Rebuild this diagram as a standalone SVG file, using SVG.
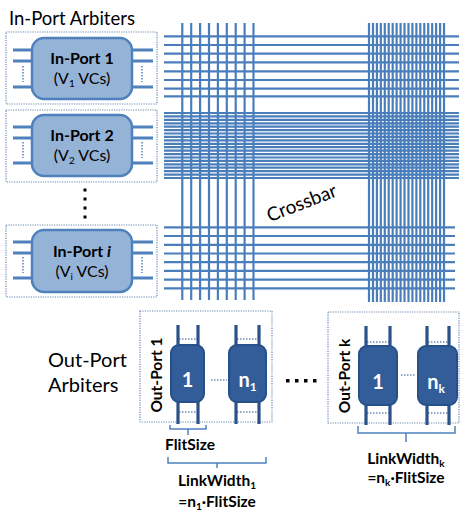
<svg xmlns="http://www.w3.org/2000/svg" width="463" height="516" viewBox="0 0 463 516">
<defs>
<style>
.t{font-family:Lato,"Liberation Sans",sans-serif;fill:#000}
.b{font-weight:bold}
.dot{fill:none;stroke:#6a89ad;stroke-width:1.2;stroke-dasharray:1.2 1.2}
.inb{fill:#95b3d7;stroke:#4f81bd;stroke-width:2.5}
.wire{stroke:#4f81bd;stroke-width:3}
.vd{stroke:#4f81bd;stroke-width:1.5;stroke-dasharray:1.5 1.5}
.xb{stroke:#4a7ebb;stroke-width:2.2}
.ob{fill:#325d98;stroke:#27508a;stroke-width:2}
.leg{stroke:#2b5189;stroke-width:3.2}
.od{stroke:#2b5189;stroke-width:1;stroke-dasharray:1.5 1.5}
.br{fill:none;stroke:#4f81bd;stroke-width:1.5}
.wt{font-family:Lato,"Liberation Sans",sans-serif;fill:#fff;font-weight:bold}
</style>
</defs>
<text class="t" x="9" y="25" font-size="18.5">In-Port Arbiters</text>
<g id="crossbar">
<g class="xb">
<line x1="182.3" y1="23" x2="182.3" y2="300"/><line x1="191.2" y1="23" x2="191.2" y2="300"/><line x1="200.1" y1="23" x2="200.1" y2="300"/><line x1="209" y1="23" x2="209" y2="300"/><line x1="217.9" y1="23" x2="217.9" y2="300"/><line x1="226.8" y1="23" x2="226.8" y2="300"/><line x1="235.7" y1="23" x2="235.7" y2="300"/><line x1="244.6" y1="23" x2="244.6" y2="300"/><line x1="253.5" y1="23" x2="253.5" y2="300"/>
<line x1="369" y1="23" x2="369" y2="302"/><line x1="373" y1="23" x2="373" y2="302"/><line x1="376.9" y1="23" x2="376.9" y2="302"/><line x1="380.8" y1="23" x2="380.8" y2="302"/><line x1="384.8" y1="23" x2="384.8" y2="302"/><line x1="388.7" y1="23" x2="388.7" y2="302"/><line x1="392.7" y1="23" x2="392.7" y2="302"/><line x1="396.6" y1="23" x2="396.6" y2="302"/><line x1="400.6" y1="23" x2="400.6" y2="302"/><line x1="404.5" y1="23" x2="404.5" y2="302"/><line x1="408.5" y1="23" x2="408.5" y2="302"/><line x1="412.4" y1="23" x2="412.4" y2="302"/><line x1="416.4" y1="23" x2="416.4" y2="302"/><line x1="420.3" y1="23" x2="420.3" y2="302"/><line x1="424.3" y1="23" x2="424.3" y2="302"/><line x1="428.2" y1="23" x2="428.2" y2="302"/><line x1="432.2" y1="23" x2="432.2" y2="302"/><line x1="436.1" y1="23" x2="436.1" y2="302"/><line x1="440.1" y1="23" x2="440.1" y2="302"/><line x1="444" y1="23" x2="444" y2="302"/>
<line x1="164" y1="36.3" x2="459" y2="36.3"/><line x1="164" y1="45" x2="459" y2="45"/><line x1="164" y1="53.7" x2="459" y2="53.7"/><line x1="164" y1="62.3" x2="459" y2="62.3"/><line x1="164" y1="71.3" x2="459" y2="71.3"/><line x1="164" y1="80" x2="459" y2="80"/><line x1="164" y1="88.7" x2="459" y2="88.7"/><line x1="164" y1="96.3" x2="459" y2="96.3"/>
<line x1="164" y1="113" x2="459" y2="113"/><line x1="164" y1="116.4" x2="459" y2="116.4"/><line x1="164" y1="119.8" x2="459" y2="119.8"/><line x1="164" y1="123.3" x2="459" y2="123.3"/><line x1="164" y1="126.7" x2="459" y2="126.7"/><line x1="164" y1="130.1" x2="459" y2="130.1"/><line x1="164" y1="133.5" x2="459" y2="133.5"/><line x1="164" y1="136.9" x2="459" y2="136.9"/><line x1="164" y1="140.4" x2="459" y2="140.4"/><line x1="164" y1="143.8" x2="459" y2="143.8"/><line x1="164" y1="147.2" x2="459" y2="147.2"/><line x1="164" y1="150.6" x2="459" y2="150.6"/><line x1="164" y1="154.1" x2="459" y2="154.1"/><line x1="164" y1="157.5" x2="459" y2="157.5"/><line x1="164" y1="160.9" x2="459" y2="160.9"/><line x1="164" y1="164.3" x2="459" y2="164.3"/><line x1="164" y1="167.7" x2="459" y2="167.7"/><line x1="164" y1="171.2" x2="459" y2="171.2"/><line x1="164" y1="174.6" x2="459" y2="174.6"/><line x1="164" y1="178" x2="459" y2="178"/>
<line x1="164" y1="227.3" x2="455" y2="227.3"/><line x1="164" y1="236" x2="455" y2="236"/><line x1="164" y1="244.8" x2="455" y2="244.8"/><line x1="164" y1="253.5" x2="455" y2="253.5"/><line x1="164" y1="262.2" x2="455" y2="262.2"/><line x1="164" y1="270.9" x2="455" y2="270.9"/><line x1="164" y1="279.6" x2="455" y2="279.6"/><line x1="164" y1="288.3" x2="455" y2="288.3"/>
</g>
<text class="t" x="0" y="0" font-size="19" text-anchor="middle" transform="translate(304,209) rotate(-21)">Crossbar</text>
</g>
<g id="inport1">
<rect class="dot" x="6" y="32" width="151" height="72"/>
<line class="wire" x1="13" y1="50" x2="33" y2="50"/><line class="wire" x1="13" y1="61" x2="33" y2="61"/><line class="wire" x1="13" y1="87" x2="33" y2="87"/>
<line class="wire" x1="131" y1="50" x2="153" y2="50"/><line class="wire" x1="131" y1="61" x2="153" y2="61"/><line class="wire" x1="131" y1="87" x2="153" y2="87"/>
<line class="vd" x1="23" y1="66" x2="23" y2="82"/><line class="vd" x1="142" y1="66" x2="142" y2="82"/>
<rect class="inb" x="32" y="38" width="100" height="61" rx="12"/>
<text class="t b" x="82" y="64" font-size="16" text-anchor="middle">In-Port 1</text>
<text class="t" x="82" y="84" font-size="16" text-anchor="middle">(V<tspan font-size="10" dy="3">1</tspan><tspan dy="-3"> VCs)</tspan></text>
</g>
<g id="inport2">
<rect class="dot" x="6" y="110" width="151" height="72"/>
<line class="wire" x1="13" y1="127" x2="33" y2="127"/><line class="wire" x1="13" y1="138" x2="33" y2="138"/><line class="wire" x1="13" y1="163" x2="33" y2="163"/>
<line class="wire" x1="131" y1="127" x2="153" y2="127"/><line class="wire" x1="131" y1="138" x2="153" y2="138"/><line class="wire" x1="131" y1="163" x2="153" y2="163"/>
<line class="vd" x1="23" y1="142" x2="23" y2="158"/><line class="vd" x1="142" y1="142" x2="142" y2="158"/>
<rect class="inb" x="32" y="115" width="100" height="61" rx="12"/>
<text class="t b" x="82" y="141" font-size="16" text-anchor="middle">In-Port 2</text>
<text class="t" x="82" y="161" font-size="16" text-anchor="middle">(V<tspan font-size="10" dy="3">2</tspan><tspan dy="-3"> VCs)</tspan></text>
</g>
<g id="vdots" fill="#000">
<rect x="83.5" y="188.5" width="3" height="3"/><rect x="83.5" y="197.5" width="3" height="3"/><rect x="83.5" y="206.5" width="3" height="3"/><rect x="83.5" y="215.5" width="3" height="3"/>
</g>
<g id="inporti">
<rect class="dot" x="6" y="225" width="151" height="72"/>
<line class="wire" x1="13" y1="242" x2="33" y2="242"/><line class="wire" x1="13" y1="253" x2="33" y2="253"/><line class="wire" x1="13" y1="278" x2="33" y2="278"/>
<line class="wire" x1="131" y1="242" x2="153" y2="242"/><line class="wire" x1="131" y1="253" x2="153" y2="253"/><line class="wire" x1="131" y1="278" x2="153" y2="278"/>
<line class="vd" x1="23" y1="257" x2="23" y2="273"/><line class="vd" x1="142" y1="257" x2="142" y2="273"/>
<rect class="inb" x="32" y="230" width="100" height="62" rx="12"/>
<text class="t b" x="82" y="257" font-size="16" text-anchor="middle">In-Port <tspan font-style="italic">i</tspan></text>
<text class="t" x="82" y="277" font-size="16" text-anchor="middle">(V<tspan font-size="10" dy="3">i</tspan><tspan dy="-3"> VCs)</tspan></text>
</g>
<text class="t" x="48" y="367" font-size="20">Out-Port</text>
<text class="t" x="48" y="392" font-size="20">Arbiters</text>
<g id="outport1">
<rect class="dot" x="140" y="311" width="132" height="111"/>
<text class="t b" x="0" y="0" font-size="15.5" text-anchor="middle" transform="translate(162,375) rotate(-90)">Out-Port 1</text>
<line class="leg" x1="178" y1="325" x2="178" y2="346"/><line class="leg" x1="198" y1="325" x2="198" y2="346"/>
<line class="leg" x1="178" y1="401" x2="178" y2="424"/><line class="leg" x1="198" y1="401" x2="198" y2="424"/>
<line class="od" x1="179" y1="339" x2="197" y2="339"/><line class="od" x1="179" y1="412" x2="197" y2="412"/>
<rect class="ob" x="171" y="345" width="33" height="57" rx="8"/>
<text class="wt" x="187.5" y="387" font-size="20" text-anchor="middle">1</text>
<line class="od" x1="211" y1="380" x2="227" y2="380"/>
<line class="leg" x1="236" y1="325" x2="236" y2="346"/><line class="leg" x1="259" y1="325" x2="259" y2="346"/>
<line class="leg" x1="236" y1="401" x2="236" y2="424"/><line class="leg" x1="259" y1="401" x2="259" y2="424"/>
<line class="od" x1="237" y1="339" x2="258" y2="339"/><line class="od" x1="237" y1="412" x2="258" y2="412"/>
<rect class="ob" x="229" y="345" width="37" height="57" rx="8"/>
<text class="wt" x="247.5" y="387" font-size="20" text-anchor="middle">n<tspan font-size="12" dy="4">1</tspan></text>
</g>
<g id="hdots" fill="#000">
<rect x="286" y="379" width="3.5" height="3.5"/><rect x="295" y="379" width="3.5" height="3.5"/><rect x="304" y="379" width="3.5" height="3.5"/><rect x="313" y="379" width="3.5" height="3.5"/>
</g>
<g id="outportk">
<rect class="dot" x="328" y="312" width="131" height="111"/>
<text class="t b" x="0" y="0" font-size="15.5" text-anchor="middle" transform="translate(350,376) rotate(-90)">Out-Port k</text>
<line class="leg" x1="366" y1="326" x2="366" y2="348"/><line class="leg" x1="390" y1="326" x2="390" y2="348"/>
<line class="leg" x1="366" y1="403" x2="366" y2="425"/><line class="leg" x1="390" y1="403" x2="390" y2="425"/>
<line class="od" x1="367" y1="342" x2="389" y2="342"/><line class="od" x1="367" y1="413" x2="389" y2="413"/>
<rect class="ob" x="359" y="346" width="38" height="59" rx="8"/>
<text class="wt" x="378" y="389" font-size="20" text-anchor="middle">1</text>
<line class="od" x1="401" y1="375" x2="416" y2="375"/>
<line class="leg" x1="427" y1="326" x2="427" y2="348"/><line class="leg" x1="449" y1="326" x2="449" y2="348"/>
<line class="leg" x1="427" y1="403" x2="427" y2="425"/><line class="leg" x1="449" y1="403" x2="449" y2="425"/>
<line class="od" x1="428" y1="342" x2="448" y2="342"/><line class="od" x1="428" y1="413" x2="448" y2="413"/>
<rect class="ob" x="418" y="346" width="39" height="59" rx="8"/>
<text class="wt" x="436" y="389" font-size="20" text-anchor="middle">n<tspan font-size="12" dy="4">k</tspan></text>
</g>
<g id="connectors">
<path class="br" d="M170,425 L170,429 L206,429 L206,425 M188,429 L188,435"/>
<path class="br" d="M168,457 L168,463 L266,463 L266,457 M217,463 L217,468"/>
<path class="br" d="M358,426 L358,433 L455,433 L455,426 M406,433 L406,442"/>
</g>
<g id="labels">
<text class="t b" x="190" y="450" font-size="15.5" text-anchor="middle">FlitSize</text>
<text class="t b" x="217" y="486" font-size="15.5" text-anchor="middle">LinkWidth<tspan font-size="10" dy="3">1</tspan></text>
<text class="t b" x="217" y="507" font-size="15.5" text-anchor="middle">=n<tspan font-size="10" dy="3">1</tspan><tspan dy="-3">·FlitSize</tspan></text>
<text class="t b" x="406" y="464" font-size="15.5" text-anchor="middle">LinkWidth<tspan font-size="10" dy="3">k</tspan></text>
<text class="t b" x="406" y="483" font-size="15.5" text-anchor="middle">=n<tspan font-size="10" dy="3">k</tspan><tspan dy="-3">·FlitSize</tspan></text>
</g>
</svg>
